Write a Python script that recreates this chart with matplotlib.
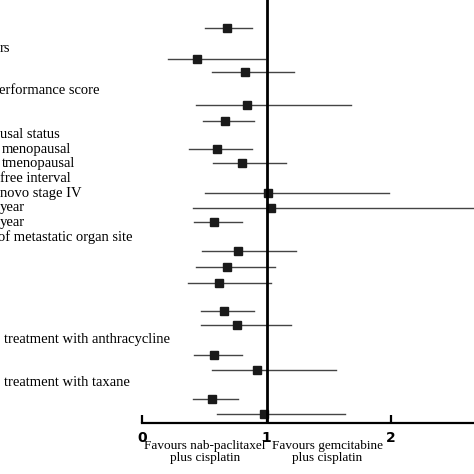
import matplotlib
matplotlib.use("Agg")
import matplotlib.pyplot as plt

# estimates (hazard ratio, lower, upper), row position in px from top
row_y = [28, 59, 72, 105, 121, 149, 163, 193, 208, 222, 251, 267, 283, 311, 325, 355, 370, 399, 414]
hr =    [0.68, 0.44, 0.83, 0.84, 0.67, 0.60, 0.80, 1.01, 1.04, 0.58, 0.77, 0.68, 0.62, 0.66, 0.76, 0.58, 0.92, 0.56, 0.98]
lo =    [0.51, 0.21, 0.56, 0.43, 0.49, 0.38, 0.57, 0.51, 0.41, 0.42, 0.48, 0.43, 0.37, 0.47, 0.47, 0.42, 0.56, 0.41, 0.60]
hi =    [0.88, 0.99, 1.22, 1.68, 0.90, 0.88, 1.16, 1.98, 3.00, 0.80, 1.24, 1.07, 1.04, 0.90, 1.20, 0.80, 1.56, 0.77, 1.63]

# visible (cropped) label fragments on the left
labels = [(48, 0, "rs"), (91, -1, "erformance score"), (134, 0, "usal status"),
          (149, 2, "menopausal"), (163, 2, "tmenopausal"), (178, 0, "free interval"),
          (193, 0, "novo stage IV"), (208, 0, "year"), (222, 0, "year"),
          (237, -2, "of metastatic organ site"), (339, 4, "treatment with anthracycline"),
          (383, 4, "treatment with taxane")]

W = H = 474
fig = plt.figure(figsize=(4.74, 4.74), dpi=100)
ax = fig.add_axes([142 / W, 1 - 423 / H, 1 - 142 / W, 423 / H])
xmax = (W - 142) / 124.5
ax.set_xlim(0, xmax)
ax.set_ylim(423, 0)

for y, h, l, u in zip(row_y, hr, lo, hi):
    ax.plot([l, u], [y, y], color="#444444", lw=1.0)
    ax.plot(h, y, marker="s", color="#1a1a1a", ms=6)

ax.axvline(1, color="black", lw=2)

for s in ["top", "right", "left"]:
    ax.spines[s].set_visible(False)
ax.spines["bottom"].set_linewidth(1.6)
ax.spines["bottom"].set_bounds(0, xmax)
ax.set_yticks([])
ax.set_xticks([0, 1, 2])
ax.set_xticklabels(["0", "1", "2"], fontweight="bold", fontsize=10)
ax.tick_params(axis="x", direction="in", length=6, width=1.6, pad=6)

for y, x, t in labels:
    fig.text(x / W, 1 - y / H, t, fontsize=10.5, family="Liberation Serif", va="center", ha="left")

fig.text(205 / W, 1 - 452 / H, "Favours nab-paclitaxel\nplus cisplatin", fontsize=9.5,
         family="Liberation Serif", ha="center", va="center", linespacing=0.95)
fig.text(327 / W, 1 - 452 / H, "Favours gemcitabine\nplus cisplatin", fontsize=9.5,
         family="Liberation Serif", ha="center", va="center", linespacing=0.95)

fig.savefig("out.png", dpi=100)
